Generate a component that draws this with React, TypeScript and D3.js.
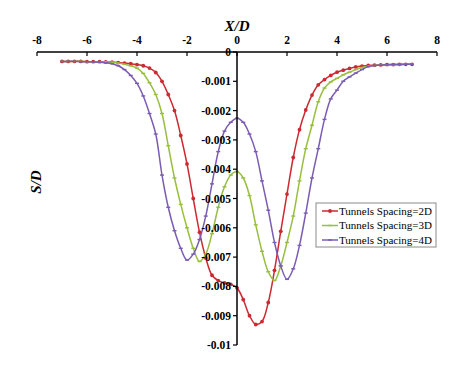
import React from 'react'
import * as d3 from 'd3'

// X/D stations
const xd = [
  -7, -6.75, -6.5, -6.25, -6, -5.75, -5.5, -5.25,
  -5, -4.75, -4.5, -4.25, -4, -3.75, -3.5, -3.25,
  -3, -2.75, -2.5, -2.25, -2, -1.75, -1.5, -1.25,
  -1, -0.75, -0.5, -0.25, 0, 0.25, 0.5, 0.75,
  1, 1.25, 1.5, 1.75, 2, 2.25, 2.5, 2.75,
  3, 3.25, 3.5, 3.75, 4, 4.25, 4.5, 4.75,
  5, 5.25, 5.5, 5.75, 6, 6.25, 6.5, 6.75, 7,
]

// S/D settlement, spacing = 2D
const spacing2D = [
  -0.00032, -0.00032, -0.00032, -0.00032, -0.00033, -0.00033, -0.00033, -0.00034,
  -0.00035, -0.00036, -0.00038, -0.0004, -0.00043, -0.00047, -0.00055, -0.0007,
  -0.001, -0.00145, -0.002, -0.00285, -0.00382, -0.005, -0.00615, -0.00703,
  -0.00762, -0.0078, -0.00788, -0.00793, -0.00805, -0.00845, -0.009, -0.0093,
  -0.0092, -0.00855, -0.00745, -0.00612, -0.00485, -0.0036, -0.00265, -0.00198,
  -0.00147, -0.00112, -0.00094, -0.0008, -0.00069, -0.00062, -0.00056, -0.00051,
  -0.00048, -0.00046, -0.00045, -0.00044, -0.00043, -0.00043, -0.00042, -0.00042, -0.00042,
]

// spacing = 3D
const spacing3D = [
  -0.00032, -0.00032, -0.00032, -0.00032, -0.00033, -0.00033, -0.00034, -0.00034,
  -0.00035, -0.00038, -0.00042, -0.00047, -0.00055, -0.00073, -0.00105, -0.00145,
  -0.0021, -0.0032, -0.0043, -0.0052, -0.006, -0.0067, -0.00715, -0.0069,
  -0.0062, -0.0053, -0.0046, -0.0042, -0.00408, -0.0043, -0.0049, -0.0059,
  -0.0068, -0.0075, -0.0078, -0.0073, -0.0065, -0.0056, -0.0044, -0.0033,
  -0.0025, -0.0017, -0.00123, -0.00102, -0.0009, -0.00078, -0.00069, -0.0006,
  -0.00053, -0.00049, -0.00046, -0.00045, -0.00044, -0.00043, -0.00043, -0.00042, -0.00042,
]

// spacing = 4D
const spacing4D = [
  -0.00032, -0.00032, -0.00032, -0.00033, -0.00033, -0.00034, -0.00035, -0.00037,
  -0.0004, -0.00047, -0.0006, -0.0008, -0.00107, -0.0015, -0.0021, -0.0028,
  -0.0042, -0.0053, -0.0061, -0.0067, -0.0071, -0.0069, -0.0064, -0.0056,
  -0.0045, -0.0034, -0.0027, -0.0024, -0.00226, -0.0024, -0.0028, -0.0034,
  -0.0044, -0.0054, -0.0065, -0.0073, -0.00776, -0.0074, -0.0066, -0.0055,
  -0.0043, -0.0033, -0.0023, -0.0016, -0.0013, -0.001, -0.00085, -0.00072,
  -0.0006, -0.0005, -0.00046, -0.00045, -0.00044, -0.00043, -0.00043, -0.00042, -0.00042,
]

const seriesNames = ['Tunnels Spacing=2D', 'Tunnels Spacing=3D', 'Tunnels Spacing=4D']
const seriesColors = ['#cc2a30', '#98bf3e', '#7a5cb2']
const xTicks = [-8, -6, -4, -2, 0, 2, 4, 6, 8]
const yTicks = [0, -0.001, -0.002, -0.003, -0.004, -0.005, -0.006, -0.007, -0.008, -0.009, -0.01]

const W = 474
const H = 366
const serif = "'Times New Roman', 'Liberation Serif', 'DejaVu Serif', serif"

export default function App() {
  const x = d3.scaleLinear().domain([-8, 8]).range([37, 437])
  const y = d3.scaleLinear().domain([0, -0.01]).range([52, 345])
  const all = [spacing2D, spacing3D, spacing4D]

  const line = d3
    .line<number>()
    .x((_, i) => x(xd[i]))
    .y((d) => y(d))
    .curve(d3.curveCatmullRom.alpha(0.5))

  const marker = (s: number, cx: number, cy: number, key: string) =>
    s === 0 ? (
      <circle key={key} cx={cx} cy={cy} r={1.9} fill={seriesColors[s]} />
    ) : (
      <line key={key} x1={cx - 2} x2={cx + 2} y1={cy} y2={cy} stroke={seriesColors[s]} strokeWidth={1.4} />
    )

  const lx = 316
  const ly = 203

  return (
    <svg width={W} height={H} style={{ position: 'absolute', left: 0, top: 0, background: '#fff', fontFamily: serif }}>
      <rect width={W} height={H} fill="#fff" />

      {/* curves */}
      {all.map((vals, s) => (
        <g key={s}>
          <path d={line(vals) || ''} fill="none" stroke={seriesColors[s]} strokeWidth={1.5} />
          {vals.map((v, i) => marker(s, x(xd[i]), y(v), `${s}-${i}`))}
        </g>
      ))}

      {/* x axis (top) */}
      <line x1={x(-8)} x2={x(8)} y1={y(0)} y2={y(0)} stroke="#000" strokeWidth={1.5} />
      {xTicks.map((t) => (
        <g key={t}>
          <line x1={x(t)} x2={x(t)} y1={y(0)} y2={y(0) + 4} stroke="#000" strokeWidth={1.2} />
          <text x={x(t)} y={44} textAnchor="middle" fontWeight="bold" fontSize={11.5}>
            {t}
          </text>
        </g>
      ))}

      {/* y axis */}
      <line x1={x(0)} x2={x(0)} y1={y(0)} y2={y(-0.01)} stroke="#000" strokeWidth={1.5} />
      {yTicks.map((t) => (
        <g key={t}>
          <line x1={x(0) - 4} x2={x(0)} y1={y(t)} y2={y(t)} stroke="#000" strokeWidth={1.2} />
          {t !== 0 && (
            <text x={x(0) - 6} y={y(t)} dy="0.35em" textAnchor="end" fontWeight="bold" fontSize={11.5}>
              {d3.format('.3~f')(t).replace('−', '-')}
            </text>
          )}
        </g>
      ))}
      <text x={x(0) - 6} y={y(0) + 4} textAnchor="end" fontWeight="bold" fontSize={11.5}>
        0
      </text>

      {/* titles */}
      <text x={x(0)} y={31} textAnchor="middle" fontWeight="bold" fontStyle="italic" fontSize={15}>
        X/D
      </text>
      <text
        transform={`translate(41, 182) rotate(-90)`}
        textAnchor="middle"
        fontWeight="bold"
        fontStyle="italic"
        fontSize={15}
      >
        S/D
      </text>

      {/* legend */}
      <rect x={lx} y={ly} width={120} height={44} fill="#fff" stroke="#8a8a8a" strokeWidth={1} />
      {seriesNames.map((name, s) => {
        const cy = ly + 8 + s * 14.5
        return (
          <g key={name}>
            <line x1={lx + 6} x2={lx + 22} y1={cy} y2={cy} stroke={seriesColors[s]} strokeWidth={1.5} />
            {marker(s, lx + 14, cy, `lg-${s}`)}
            <text x={lx + 23} y={cy} dy="0.35em" fontSize={11}>
              {name}
            </text>
          </g>
        )
      })}
    </svg>
  )
}
